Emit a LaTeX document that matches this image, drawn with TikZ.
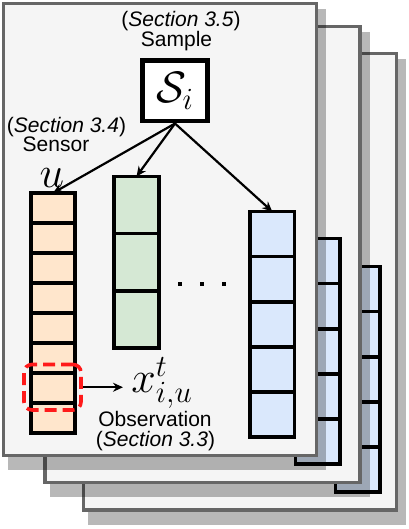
\RequirePackage{fix-cm}
\documentclass[tikz,border=0pt]{standalone}
\usepackage{fontspec}
\setmainfont{Liberation Sans}
\usetikzlibrary{arrows.meta,positioning}
\definecolor{pagefill}{HTML}{F5F5F5}
\definecolor{pageline}{HTML}{666666}
\definecolor{orangecell}{HTML}{FFE6CC}
\definecolor{greencell}{HTML}{D5E8D4}
\definecolor{bluecell}{HTML}{DAE8FC}
\definecolor{obsred}{HTML}{FF1A1A}
\newcommand{\labelFont}{\fontsize{10.5}{12.6}\selectfont}
\newcommand{\mathFont}{\fontsize{22}{24}\selectfont}
% one sheet of the stack: shadow, then the sheet itself
\newcommand{\stackpage}[4]{%
  \fill[pageshadow] (#1+4.5,#2+5.5) rectangle (#3+9.5,#4+14.5);
  \draw[page] (#1,#2) rectangle (#3,#4);}
\tikzset{
  page/.style={draw=pageline, fill=pagefill, line width=1.7pt},
  pageshadow/.style={fill=black, opacity=0.28},
  column/.style={draw=black, line width=1.8pt, minimum width=22.25pt, inner sep=0pt, outer sep=0pt},
  cellline/.style={draw=black, line width=1.8pt},
  samplebox/.style={draw=black, fill=white, line width=2.4pt, minimum width=32.5pt, minimum height=30.4pt, inner sep=0pt, font=\mathFont},
  obsbox/.style={draw=obsred, line width=1.8pt, dash pattern=on 6pt off 3pt, rounded corners=4pt, minimum width=28.5pt, minimum height=22.75pt, inner sep=0pt},
  caption/.style={font=\labelFont, inner sep=0pt, anchor=base},
  arr/.style={-{Stealth[length=5pt,width=4.5pt]}, line width=1.1pt},
}

\begin{document}
\begin{tikzpicture}[x=0.5pt, y=-0.5pt]
	\useasboundingbox (0,0) rectangle (408,529);
	%% back sheets, only the last sensor is seen
	\stackpage{83.5}{53.5}{396.5}{510}
	\node[column, fill=bluecell, minimum height=112.75pt] (lastC) at (357.75,379.25) {};
	\foreach \k in {1,...,4}
		\draw[cellline] ([yshift=-22.55pt*\k]lastC.north west) -- ([yshift=-22.55pt*\k]lastC.north east);
	\stackpage{45}{26.5}{360}{482.5}
	\node[column, fill=bluecell, minimum height=112.75pt] (lastB) at (317.75,351.25) {};
	\foreach \k in {1,...,4}
		\draw[cellline] ([yshift=-22.55pt*\k]lastB.north west) -- ([yshift=-22.55pt*\k]lastB.north east);
	%% front sheet
	\stackpage{3.5}{3.5}{316.5}{455.5}
	\node[caption] (secSample) at (181,27) {(\textit{Section 3.5})};
	\node[caption] (sampleLbl) at (176.5,47) {Sample};
	\node[samplebox] (sample) at (175,90.7) {$\mathcal{S}_i$};
	\node[caption] (secSensor) at (66.5,133) {(\textit{Section 3.4})};
	\node[caption] (sensorLbl) at (56,152) {Sensor};
	\node[caption, font=\mathFont] (sensorU) at (52,188) {$u$};
	% sensors
	\node[column, fill=orangecell, minimum height=120pt] (sensorA) at (53,313) {};
	\foreach \k in {1,...,7}
		\draw[cellline] ([yshift=-15pt*\k]sensorA.north west) -- ([yshift=-15pt*\k]sensorA.north east);
	\node[column, fill=greencell, minimum height=85.75pt] (sensorB) at (136.5,262.25) {};
	\foreach \k in {1,2}
		\draw[cellline] ([yshift=-28.58pt*\k]sensorB.north west) -- ([yshift=-28.58pt*\k]sensorB.north east);
	\node[column, fill=bluecell, minimum height=112.75pt] (sensorN) at (272.25,324.25) {};
	\foreach \k in {1,...,4}
		\draw[cellline] ([yshift=-22.55pt*\k]sensorN.north west) -- ([yshift=-22.55pt*\k]sensorN.north east);
	\foreach \dx in {180,202,224}
		\fill (\dx-2,281.5) rectangle ++(4,4);
	\draw[arr] (sample.south) -- (sensorA.north);
	\draw[arr] (sample.south) -- (sensorB.north);
	\draw[arr] (sample.south) -- (sensorN.north);
	% observation
	\node[obsbox] (obsbox) at (52.5,387.25) {};
	\node[font=\mathFont, inner xsep=4pt, inner ysep=0pt, anchor=base west] (obs) at (123,392) {$x^t_{i,u}$};
	\draw[arr] (obsbox.east) -- (obsbox.east -| obs.west);
	\node[caption] (obsLbl) at (155,426) {Observation};
	\node[caption] (secObs) at (155.5,446) {(\textit{Section 3.3})};
\end{tikzpicture}
\end{document}
